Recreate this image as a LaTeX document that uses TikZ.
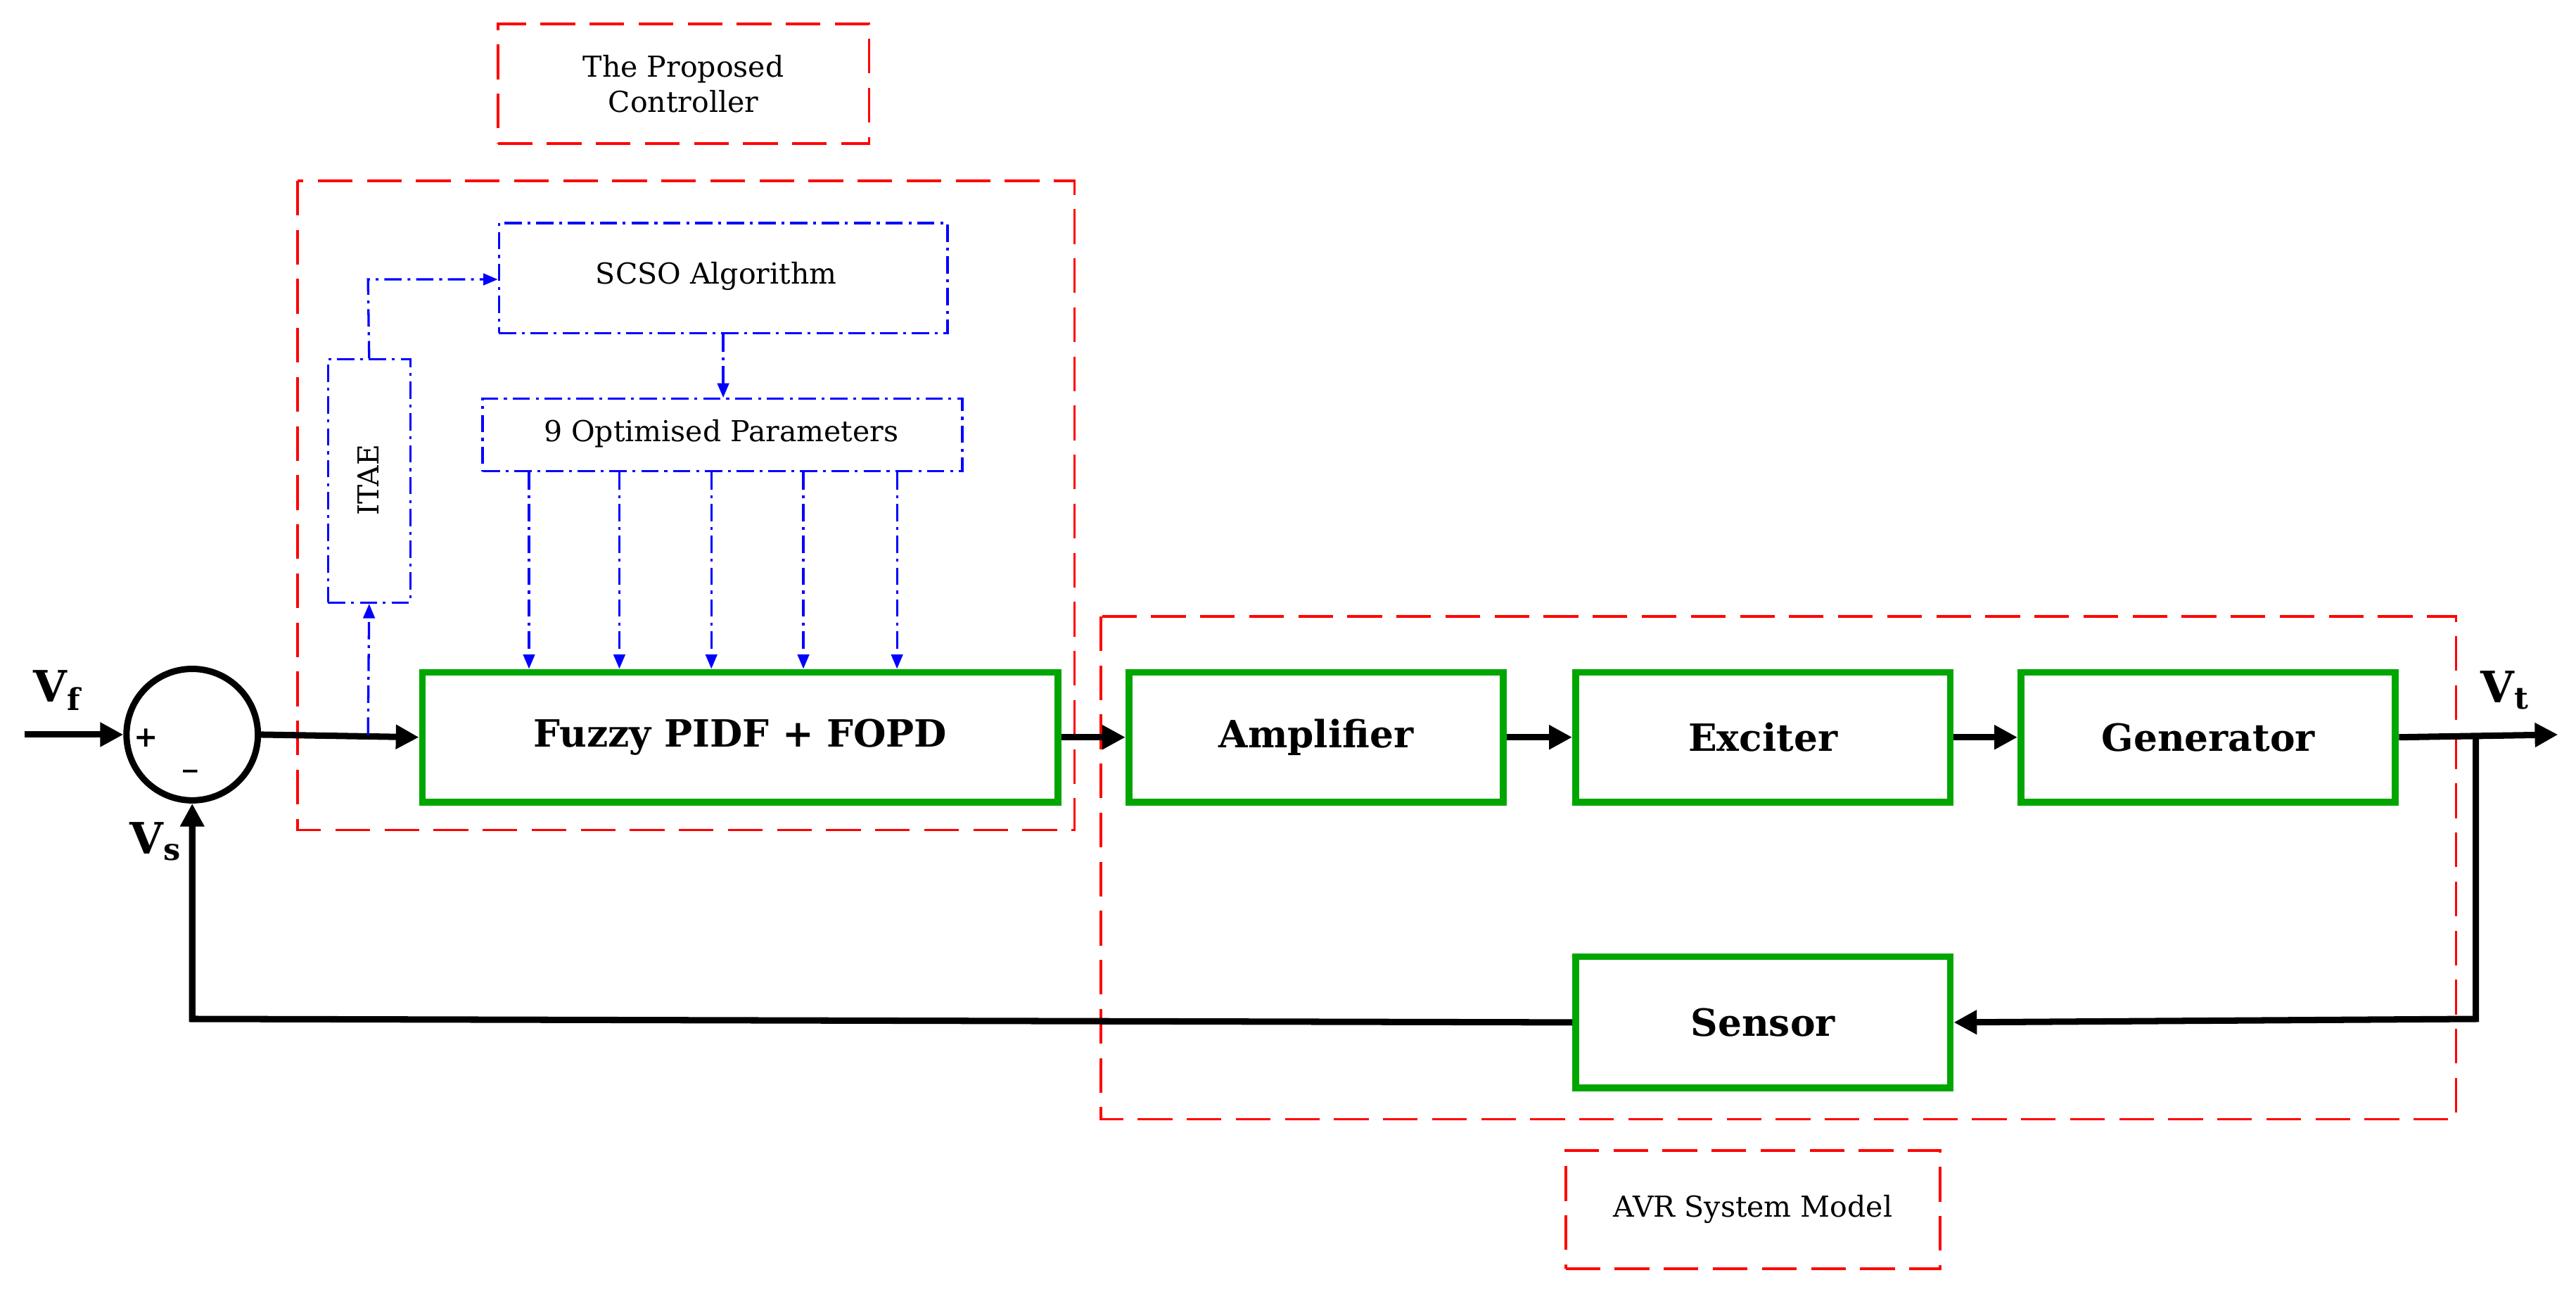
\documentclass[tikz,border=0pt]{standalone}
\usepackage{fontspec}
\setmainfont{DejaVu Serif}
\usetikzlibrary{arrows.meta}
\begin{document}
\begin{tikzpicture}[x=0.02cm,y=-0.02cm,
  blk/.style={draw=green!65!black,line width=2.4pt,minimum height=79*0.02cm,font=\fontsize{13}{15}\selectfont\bfseries,anchor=north west},
  red box/.style={draw=red,line width=0.9pt,dash pattern=on 12pt off 5pt},
  blue box/.style={draw=blue,line width=0.8pt,dash pattern=on 6pt off 2pt on 1pt off 2pt,font=\fontsize{10}{12}\selectfont,anchor=north west},
  sig/.style={line width=2.2pt,-{Triangle[length=8pt,width=8pt]}},
  bsig/.style={blue,line width=0.8pt,dash pattern=on 6pt off 2pt on 1pt off 2pt,-{Triangle[length=5pt,width=4pt]}},
  lbl/.style={font=\fontsize{10}{12}\selectfont,align=center}]
\useasboundingbox (0,0) rectangle (1568,790);
% dashed frames
\draw[red box] (181,110) rectangle (654,505);
\draw[red box] (670,375) rectangle (1495,681);
\node[red box,lbl,minimum width=226*0.02cm,minimum height=73*0.02cm] (prop) at (416,51) {The Proposed\\Controller};
\node[red box,lbl,minimum width=228*0.02cm,minimum height=72*0.02cm] (avr) at (1067,736) {AVR System Model};
% optimisation blocks
\node[blue box,minimum width=273*0.02cm,minimum height=67*0.02cm] (scso) at (303,135) {};
\node[lbl] at (436,168) {SCSO Algorithm};
\node[blue box,minimum width=292*0.02cm,minimum height=44*0.02cm] (par) at (293,242) {};
\node[lbl] at (439,264) {9 Optimised Parameters};
\node[blue box,minimum width=50*0.02cm,minimum height=148*0.02cm] (itae) at (199,218) {};
\node[lbl,rotate=90] at (224,292) {ITAE};
% main blocks
\node[blk,minimum width=387*0.02cm] (fz) at (255,407) {};
\node[font=\fontsize{13}{15}\selectfont\bfseries] at (fz.center) {Fuzzy PIDF + FOPD};
\node[blk,minimum width=228*0.02cm] (amp) at (685,407) {};
\node[font=\fontsize{13}{15}\selectfont\bfseries] at (amp.center) {Amplifier};
\node[blk,minimum width=228*0.02cm] (exc) at (957,407) {};
\node[font=\fontsize{13}{15}\selectfont\bfseries] at (exc.center) {Exciter};
\node[blk,minimum width=228*0.02cm] (gen) at (1228,407) {};
\node[font=\fontsize{13}{15}\selectfont\bfseries] at (gen.center) {Generator};
\node[blk,minimum width=228*0.02cm,minimum height=80*0.02cm] (sen) at (957,580) {};
\node[font=\fontsize{13}{15}\selectfont\bfseries] at (sen.center) {Sensor};
% summing junction
\node[circle,draw,line width=2.2pt,minimum size=80*0.02cm,inner sep=0] (sum) at (117,447) {};
\node[font=\bfseries] at (89,449) {+};
\node[font=\bfseries] at (116,468) {\_};
\coordinate (in) at (15,447);
\coordinate (out) at (1557,447);
\coordinate (tap) at (1507,447);
\coordinate (fb) at (1507,620);
\coordinate (fb2) at (117,620);
\coordinate (it) at (224,447);
\coordinate (corner) at (224,170);
% labels
\node[font=\fontsize{15}{17}\selectfont\bfseries] at (35,420) {V\textsubscript{f}};
\node[font=\fontsize{15}{17}\selectfont\bfseries] at (95,512) {V\textsubscript{s}};
\node[font=\fontsize{15}{17}\selectfont\bfseries] at (1525,420) {V\textsubscript{t}};
% signals
\draw[sig] (in) -- (sum.west);
\draw[sig] (sum.east) -- (fz.west);
\draw[sig] (fz.east) -- (amp.west);
\draw[sig] (amp.east) -- (exc.west);
\draw[sig] (exc.east) -- (gen.west);
\draw[sig] (gen.east) -- (out);
\draw[sig] (tap) -- (fb) -- (sen.east);
\draw[sig] (sen.west) -- (fb2) -- (sum.south);
% optimisation signals
\draw[bsig] (it) -- (itae.south);
\draw[bsig] (itae.north) -- (corner) -- (scso.west |- corner);
\draw[bsig] (scso.south) -- (par.north -| scso.south);
\foreach \x in {322,377,433,489,546}
  \draw[bsig] (par.south -| \x,0) -- (fz.north -| \x,0);
\end{tikzpicture}
\end{document}
